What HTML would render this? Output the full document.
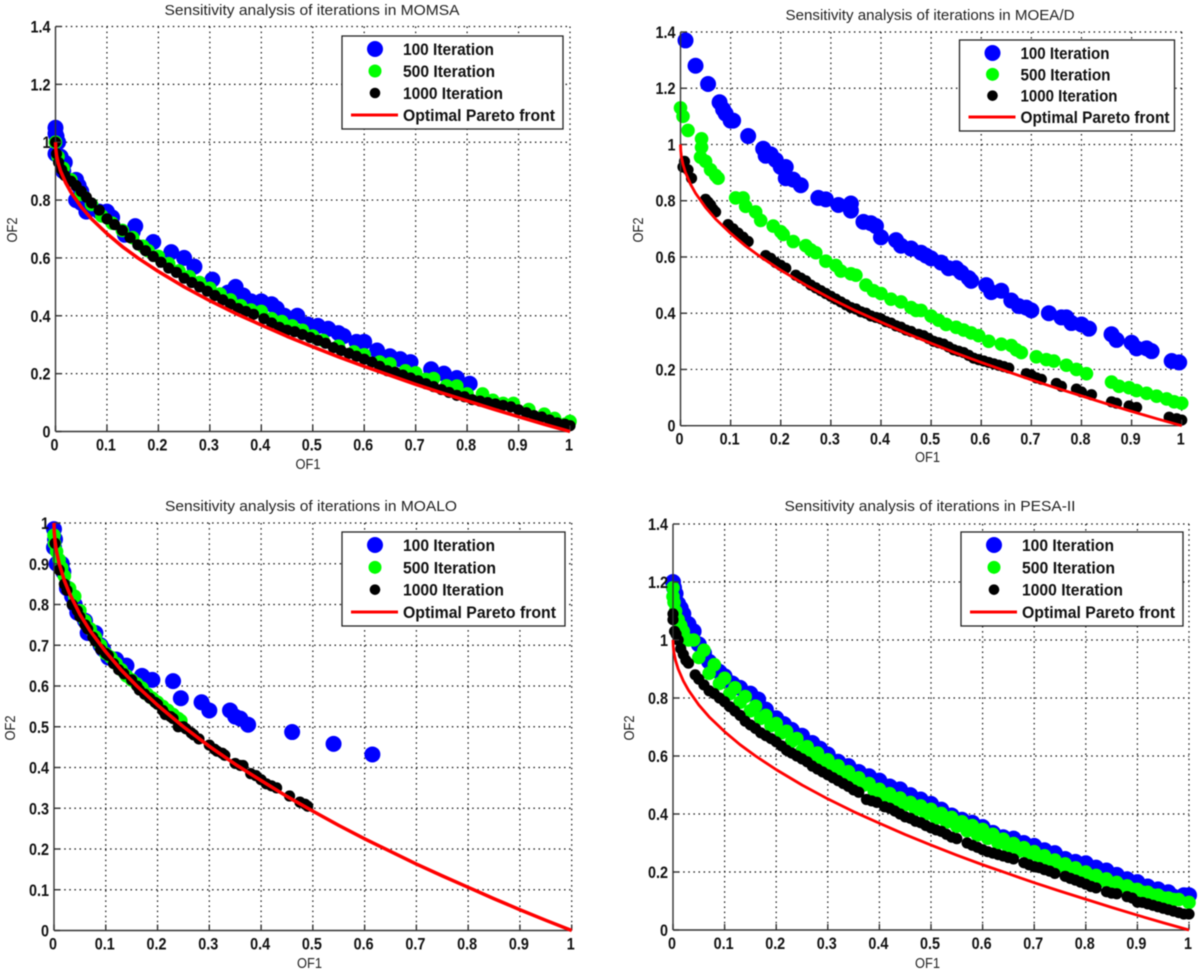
<!DOCTYPE html>
<html lang="en">
<head>
<meta charset="utf-8">
<title>Sensitivity analysis of iterations</title>
<style>
html,body{margin:0;padding:0;background:#fff;}
#figure{display:block;width:1200px;height:973px;filter:blur(0.4px);}
text{font-family:"Liberation Sans",Arial,sans-serif;}
</style>
</head>
<body>
<svg id="figure" xmlns="http://www.w3.org/2000/svg" width="1200" height="973" viewBox="0 0 1200 973"></svg>
<script>
// ---- shared values ----
const legendLabels = ["100 Iteration", "500 Iteration", "1000 Iteration", "Optimal Pareto front"];
const xTickValues = [0, 0.1, 0.2, 0.3, 0.4, 0.5, 0.6, 0.7, 0.8, 0.9, 1];
const xTickLabels = ["0", "0.1", "0.2", "0.3", "0.4", "0.5", "0.6", "0.7", "0.8", "0.9", "1"];
const yTickValuesWide = [0, 0.2, 0.4, 0.6, 0.8, 1, 1.2, 1.4];
const yTickLabelsWide = ["0", "0.2", "0.4", "0.6", "0.8", "1", "1.2", "1.4"];
const yTickValuesUnit = [0, 0.1, 0.2, 0.3, 0.4, 0.5, 0.6, 0.7, 0.8, 0.9, 1];
const yTickLabelsUnit = ["0", "0.1", "0.2", "0.3", "0.4", "0.5", "0.6", "0.7", "0.8", "0.9", "1"];
const paretoX = [0, 0.0005, 0.002, 0.005, 0.01, 0.02, 0.03, 0.05, 0.07, 0.1, 0.13, 0.16, 0.2, 0.25, 0.3, 0.35, 0.4, 0.45, 0.5, 0.55, 0.6, 0.65, 0.7, 0.75, 0.8, 0.85, 0.9, 0.95, 1];
const paretoY = [1, 0.978, 0.955, 0.929, 0.9, 0.859, 0.827, 0.776, 0.735, 0.684, 0.639, 0.6, 0.553, 0.5, 0.452, 0.408, 0.368, 0.329, 0.293, 0.258, 0.225, 0.194, 0.163, 0.134, 0.106, 0.078, 0.051, 0.025, 0];

// ---- MOMSA ----
const momsa100X = [0, 0, 0.002, 0.005, 0, 0.01, 0.018, 0.015, 0.04, 0.045, 0.05, 0.04, 0.05, 0.06, 0.085, 0.1, 0.11, 0.135, 0.155, 0.15, 0.19, 0.225, 0.25, 0.27, 0.305, 0.335, 0.35, 0.365, 0.38, 0.4, 0.42, 0.43, 0.445, 0.47, 0.49, 0.51, 0.53, 0.55, 0.56, 0.585, 0.6, 0.625, 0.65, 0.67, 0.69, 0.73, 0.755, 0.78, 0.805];
const momsa100Y = [1.05, 1.03, 1.02, 1, 0.96, 0.95, 0.93, 0.9, 0.87, 0.85, 0.83, 0.8, 0.79, 0.76, 0.76, 0.76, 0.74, 0.68, 0.71, 0.69, 0.655, 0.62, 0.6, 0.57, 0.525, 0.48, 0.5, 0.47, 0.45, 0.45, 0.44, 0.425, 0.4, 0.4, 0.37, 0.365, 0.355, 0.34, 0.33, 0.31, 0.31, 0.28, 0.26, 0.25, 0.24, 0.215, 0.2, 0.185, 0.165];
const momsa500X = [0, 0.005, 0.015, 0.03, 0.05, 0.07, 0.09, 0.11, 0.13, 0.15, 0.17, 0.18, 0.2, 0.22, 0.24, 0.26, 0.28, 0.3, 0.32, 0.34, 0.36, 0.38, 0.4, 0.42, 0.44, 0.46, 0.48, 0.5, 0.52, 0.55, 0.58, 0.6, 0.63, 0.65, 0.68, 0.7, 0.72, 0.735, 0.76, 0.78, 0.8, 0.83, 0.85, 0.87, 0.89, 0.92, 0.95, 0.97, 0.99, 1];
const momsa500Y = [1, 0.95, 0.91, 0.87, 0.82, 0.785, 0.745, 0.72, 0.695, 0.67, 0.64, 0.625, 0.605, 0.58, 0.555, 0.535, 0.515, 0.495, 0.475, 0.455, 0.435, 0.42, 0.415, 0.39, 0.38, 0.365, 0.35, 0.33, 0.315, 0.295, 0.275, 0.265, 0.24, 0.234, 0.21, 0.203, 0.18, 0.183, 0.158, 0.157, 0.13, 0.13, 0.108, 0.097, 0.097, 0.076, 0.06, 0.045, 0.025, 0.035];
const momsa1000X = [0, 0.002, 0.006, 0.012, 0.018, 0.03, 0.04, 0.05, 0.06, 0.07, 0.085, 0.1, 0.115, 0.13, 0.145, 0.16, 0.175, 0.19, 0.205, 0.22, 0.235, 0.25, 0.265, 0.28, 0.295, 0.31, 0.325, 0.34, 0.355, 0.37, 0.385, 0.405, 0.42, 0.435, 0.45, 0.465, 0.48, 0.495, 0.51, 0.525, 0.54, 0.555, 0.57, 0.585, 0.6, 0.615, 0.63, 0.645, 0.66, 0.675, 0.69, 0.705, 0.72, 0.735, 0.75, 0.765, 0.78, 0.795, 0.81, 0.825, 0.84, 0.855, 0.87, 0.885, 0.9, 0.915, 0.93, 0.945, 0.96, 0.975, 0.99, 1];
const momsa1000Y = [1, 0.96, 0.93, 0.905, 0.885, 0.865, 0.85, 0.83, 0.81, 0.79, 0.765, 0.735, 0.715, 0.695, 0.67, 0.645, 0.625, 0.605, 0.585, 0.565, 0.55, 0.53, 0.515, 0.5, 0.485, 0.47, 0.455, 0.44, 0.425, 0.415, 0.405, 0.39, 0.375, 0.36, 0.35, 0.345, 0.335, 0.325, 0.315, 0.305, 0.29, 0.28, 0.27, 0.26, 0.25, 0.24, 0.225, 0.21, 0.205, 0.195, 0.185, 0.175, 0.165, 0.155, 0.145, 0.135, 0.125, 0.12, 0.11, 0.105, 0.1, 0.095, 0.09, 0.085, 0.075, 0.065, 0.055, 0.05, 0.04, 0.03, 0.025, 0.02];

// ---- MOEA/D ----
const moead100X = [0.01, 0.03, 0.055, 0.078, 0.085, 0.09, 0.1, 0.105, 0.135, 0.165, 0.17, 0.18, 0.19, 0.2, 0.21, 0.21, 0.225, 0.24, 0.275, 0.29, 0.315, 0.34, 0.34, 0.365, 0.38, 0.39, 0.4, 0.43, 0.44, 0.46, 0.48, 0.49, 0.5, 0.52, 0.535, 0.55, 0.56, 0.575, 0.58, 0.61, 0.62, 0.64, 0.66, 0.675, 0.69, 0.7, 0.735, 0.76, 0.77, 0.78, 0.8, 0.815, 0.86, 0.87, 0.9, 0.91, 0.93, 0.94, 0.98, 0.995];
const moead100Y = [1.37, 1.28, 1.215, 1.15, 1.125, 1.11, 1.085, 1.085, 1.03, 0.985, 0.96, 0.965, 0.945, 0.92, 0.92, 0.88, 0.875, 0.855, 0.81, 0.805, 0.785, 0.79, 0.765, 0.725, 0.72, 0.71, 0.67, 0.66, 0.64, 0.63, 0.615, 0.605, 0.595, 0.58, 0.56, 0.56, 0.545, 0.525, 0.515, 0.5, 0.475, 0.48, 0.445, 0.425, 0.42, 0.41, 0.4, 0.385, 0.385, 0.365, 0.36, 0.345, 0.325, 0.305, 0.295, 0.275, 0.275, 0.265, 0.23, 0.225];
const moead500X = [0, 0.005, 0.015, 0.042, 0.042, 0.04, 0.05, 0.06, 0.07, 0.075, 0.11, 0.125, 0.13, 0.15, 0.16, 0.185, 0.2, 0.205, 0.225, 0.25, 0.26, 0.27, 0.29, 0.31, 0.32, 0.34, 0.35, 0.37, 0.385, 0.4, 0.42, 0.44, 0.46, 0.47, 0.48, 0.5, 0.515, 0.53, 0.55, 0.565, 0.58, 0.595, 0.615, 0.64, 0.66, 0.67, 0.68, 0.71, 0.73, 0.745, 0.77, 0.79, 0.81, 0.86, 0.875, 0.895, 0.91, 0.93, 0.95, 0.97, 0.985, 1];
const moead500Y = [1.13, 1.1, 1.05, 1.02, 0.99, 0.955, 0.94, 0.91, 0.89, 0.88, 0.81, 0.81, 0.78, 0.76, 0.73, 0.71, 0.69, 0.68, 0.655, 0.64, 0.625, 0.615, 0.585, 0.57, 0.55, 0.54, 0.535, 0.5, 0.48, 0.47, 0.45, 0.44, 0.42, 0.41, 0.41, 0.39, 0.375, 0.36, 0.35, 0.34, 0.33, 0.32, 0.3, 0.29, 0.285, 0.27, 0.26, 0.245, 0.235, 0.23, 0.215, 0.2, 0.185, 0.155, 0.14, 0.135, 0.125, 0.115, 0.105, 0.095, 0.085, 0.08];
const moead1000X = [0.008, 0.005, 0.015, 0.022, 0.05, 0.055, 0.06, 0.065, 0.07, 0.095, 0.105, 0.115, 0.125, 0.135, 0.17, 0.18, 0.19, 0.2, 0.21, 0.23, 0.24, 0.25, 0.26, 0.27, 0.28, 0.29, 0.3, 0.31, 0.32, 0.33, 0.34, 0.35, 0.36, 0.37, 0.38, 0.39, 0.4, 0.41, 0.42, 0.43, 0.44, 0.45, 0.46, 0.475, 0.485, 0.495, 0.505, 0.515, 0.525, 0.535, 0.545, 0.555, 0.565, 0.575, 0.585, 0.595, 0.605, 0.615, 0.625, 0.635, 0.645, 0.655, 0.69, 0.7, 0.71, 0.72, 0.75, 0.76, 0.79, 0.8, 0.82, 0.86, 0.87, 0.895, 0.91, 0.975, 0.99, 1];
const moead1000Y = [0.94, 0.92, 0.91, 0.88, 0.805, 0.795, 0.785, 0.77, 0.76, 0.715, 0.7, 0.685, 0.67, 0.655, 0.605, 0.595, 0.58, 0.57, 0.56, 0.535, 0.525, 0.515, 0.5, 0.49, 0.48, 0.47, 0.46, 0.45, 0.44, 0.43, 0.42, 0.415, 0.405, 0.4, 0.39, 0.385, 0.38, 0.37, 0.365, 0.355, 0.35, 0.34, 0.335, 0.325, 0.32, 0.31, 0.3, 0.295, 0.29, 0.28, 0.27, 0.265, 0.26, 0.25, 0.24, 0.235, 0.23, 0.225, 0.22, 0.215, 0.21, 0.205, 0.185, 0.18, 0.17, 0.165, 0.15, 0.14, 0.13, 0.12, 0.11, 0.085, 0.08, 0.07, 0.065, 0.03, 0.025, 0.02];

// ---- MOALO ----
const moalo100X = [0, 0.002, 0, 0.005, 0.015, 0.018, 0.025, 0.035, 0.04, 0.045, 0.06, 0.065, 0.08, 0.09, 0.095, 0.105, 0.12, 0.14, 0.17, 0.18, 0.19, 0.23, 0.245, 0.285, 0.3, 0.34, 0.35, 0.36, 0.375, 0.46, 0.54, 0.615];
const moalo100Y = [0.985, 0.96, 0.94, 0.9, 0.9, 0.88, 0.84, 0.82, 0.8, 0.78, 0.76, 0.73, 0.73, 0.7, 0.69, 0.67, 0.665, 0.65, 0.625, 0.615, 0.615, 0.612, 0.57, 0.56, 0.54, 0.54, 0.525, 0.52, 0.505, 0.487, 0.458, 0.432];
const moalo500X = [0, 0.001, 0.005, 0.01, 0.015, 0.02, 0.03, 0.04, 0.05, 0.06, 0.07, 0.08, 0.09, 0.1, 0.11, 0.12, 0.13, 0.14, 0.15, 0.16, 0.17, 0.18, 0.19, 0.2, 0.21, 0.22, 0.23, 0.24, 0.245];
const moalo500Y = [0.97, 0.95, 0.93, 0.91, 0.89, 0.87, 0.84, 0.82, 0.785, 0.76, 0.74, 0.72, 0.7, 0.68, 0.67, 0.655, 0.64, 0.625, 0.615, 0.605, 0.595, 0.58, 0.57, 0.56, 0.55, 0.54, 0.53, 0.52, 0.515];
const moalo1000X = [0.002, 0.01, 0.02, 0.025, 0.035, 0.045, 0.05, 0.06, 0.065, 0.075, 0.08, 0.09, 0.1, 0.105, 0.115, 0.125, 0.135, 0.15, 0.16, 0.165, 0.175, 0.185, 0.195, 0.2, 0.21, 0.215, 0.225, 0.23, 0.24, 0.25, 0.255, 0.265, 0.27, 0.28, 0.3, 0.31, 0.315, 0.325, 0.33, 0.35, 0.36, 0.365, 0.38, 0.39, 0.4, 0.41, 0.42, 0.43, 0.455, 0.475, 0.485, 0.49];
const moalo1000Y = [0.95, 0.885, 0.85, 0.835, 0.8, 0.785, 0.77, 0.75, 0.74, 0.72, 0.71, 0.69, 0.68, 0.675, 0.655, 0.64, 0.63, 0.615, 0.6, 0.59, 0.58, 0.57, 0.56, 0.555, 0.54, 0.53, 0.525, 0.52, 0.5, 0.5, 0.495, 0.485, 0.48, 0.47, 0.455, 0.445, 0.44, 0.435, 0.43, 0.41, 0.405, 0.405, 0.385, 0.38, 0.37, 0.36, 0.355, 0.35, 0.33, 0.315, 0.31, 0.305];

// ---- PESA-II ----
const pesa100X = [0, 0.002, 0.005, 0.01, 0.015, 0.02, 0.03, 0.04, 0.05, 0.06, 0.07, 0.08, 0.09, 0.1, 0.115, 0.13, 0.15, 0.165, 0.18, 0.2, 0.215, 0.23, 0.25, 0.27, 0.285, 0.3, 0.32, 0.34, 0.36, 0.38, 0.4, 0.42, 0.44, 0.46, 0.48, 0.5, 0.52, 0.54, 0.56, 0.58, 0.6, 0.62, 0.64, 0.66, 0.68, 0.7, 0.72, 0.74, 0.76, 0.78, 0.8, 0.82, 0.84, 0.86, 0.88, 0.9, 0.92, 0.94, 0.96, 0.97, 0.99, 1];
const pesa100Y = [1.2, 1.18, 1.16, 1.125, 1.11, 1.09, 1.055, 1.03, 0.985, 0.955, 0.925, 0.905, 0.89, 0.875, 0.85, 0.835, 0.815, 0.795, 0.76, 0.73, 0.71, 0.69, 0.67, 0.645, 0.625, 0.605, 0.58, 0.565, 0.545, 0.53, 0.515, 0.495, 0.485, 0.465, 0.45, 0.435, 0.415, 0.395, 0.38, 0.37, 0.355, 0.335, 0.32, 0.315, 0.3, 0.29, 0.275, 0.265, 0.245, 0.235, 0.23, 0.215, 0.205, 0.19, 0.175, 0.165, 0.15, 0.14, 0.13, 0.115, 0.12, 0.12];
const pesa500X = [0, 0, 0.002, 0.005, 0.01, 0.015, 0.02, 0.03, 0.04, 0.05, 0.06, 0.07, 0.08, 0.09, 0.1, 0.11, 0.12, 0.13, 0.14, 0.15, 0.16, 0.17, 0.18, 0.19, 0.2, 0.21, 0.22, 0.23, 0.24, 0.25, 0.26, 0.27, 0.28, 0.29, 0.3, 0.31, 0.32, 0.33, 0.34, 0.35, 0.36, 0.37, 0.38, 0.39, 0.4, 0.41, 0.42, 0.43, 0.44, 0.45, 0.46, 0.47, 0.48, 0.49, 0.5, 0.51, 0.52, 0.53, 0.54, 0.55, 0.56, 0.57, 0.58, 0.59, 0.6, 0.61, 0.62, 0.63, 0.64, 0.65, 0.66, 0.67, 0.68, 0.69, 0.7, 0.71, 0.72, 0.73, 0.74, 0.75, 0.76, 0.77, 0.78, 0.79, 0.8, 0.81, 0.82, 0.83, 0.84, 0.85, 0.86, 0.87, 0.88, 0.89, 0.9, 0.91, 0.92, 0.93, 0.94, 0.95, 0.96, 0.97, 0.98, 1];
const pesa500Y = [1.18, 1.15, 1.13, 1.1, 1.07, 1.05, 1.03, 1, 1, 0.94, 0.965, 0.885, 0.915, 0.85, 0.868, 0.815, 0.835, 0.785, 0.805, 0.756, 0.772, 0.73, 0.74, 0.705, 0.712, 0.68, 0.685, 0.65, 0.66, 0.618, 0.632, 0.595, 0.61, 0.572, 0.587, 0.552, 0.566, 0.532, 0.546, 0.515, 0.525, 0.5, 0.505, 0.478, 0.485, 0.462, 0.47, 0.445, 0.455, 0.432, 0.44, 0.415, 0.428, 0.4, 0.416, 0.386, 0.402, 0.372, 0.388, 0.358, 0.373, 0.342, 0.36, 0.328, 0.347, 0.316, 0.33, 0.3, 0.313, 0.285, 0.298, 0.272, 0.284, 0.26, 0.27, 0.25, 0.256, 0.235, 0.241, 0.222, 0.228, 0.208, 0.214, 0.192, 0.2, 0.182, 0.188, 0.17, 0.176, 0.16, 0.164, 0.15, 0.152, 0.14, 0.14, 0.13, 0.13, 0.12, 0.12, 0.11, 0.11, 0.105, 0.105, 0.095];
const pesa1000X = [0, 0, 0.003, 0.006, 0.01, 0.015, 0.02, 0.025, 0.03, 0.043, 0.05, 0.06, 0.07, 0.08, 0.09, 0.1, 0.11, 0.12, 0.13, 0.14, 0.15, 0.16, 0.17, 0.18, 0.19, 0.2, 0.21, 0.22, 0.23, 0.24, 0.25, 0.26, 0.27, 0.28, 0.29, 0.3, 0.31, 0.32, 0.33, 0.34, 0.35, 0.36, 0.375, 0.385, 0.395, 0.41, 0.42, 0.43, 0.44, 0.45, 0.46, 0.47, 0.48, 0.49, 0.5, 0.51, 0.52, 0.53, 0.54, 0.55, 0.57, 0.58, 0.59, 0.6, 0.61, 0.62, 0.63, 0.64, 0.65, 0.66, 0.68, 0.69, 0.7, 0.71, 0.72, 0.73, 0.74, 0.76, 0.77, 0.78, 0.79, 0.8, 0.81, 0.82, 0.84, 0.85, 0.86, 0.88, 0.89, 0.9, 0.91, 0.92, 0.93, 0.94, 0.95, 0.96, 0.97, 0.98, 0.99, 1];
const pesa1000Y = [1.09, 1.07, 1.03, 1.02, 1, 0.97, 0.95, 0.93, 0.92, 0.88, 0.865, 0.845, 0.825, 0.815, 0.8, 0.787, 0.77, 0.755, 0.74, 0.72, 0.707, 0.695, 0.68, 0.67, 0.66, 0.649, 0.635, 0.62, 0.61, 0.6, 0.59, 0.58, 0.565, 0.555, 0.545, 0.535, 0.525, 0.515, 0.505, 0.495, 0.483, 0.475, 0.45, 0.445, 0.44, 0.425, 0.42, 0.41, 0.4, 0.39, 0.385, 0.375, 0.37, 0.36, 0.352, 0.345, 0.34, 0.33, 0.32, 0.315, 0.3, 0.292, 0.285, 0.277, 0.27, 0.265, 0.26, 0.255, 0.25, 0.245, 0.232, 0.225, 0.218, 0.215, 0.208, 0.203, 0.195, 0.185, 0.178, 0.172, 0.165, 0.158, 0.15, 0.145, 0.132, 0.127, 0.125, 0.115, 0.11, 0.096, 0.095, 0.09, 0.085, 0.08, 0.075, 0.07, 0.065, 0.06, 0.055, 0.055];

// ---- drawing ----
const svg = document.getElementById('figure');
const NS = 'http://www.w3.org/2000/svg';
function make(tag, attrs, parent) {
  const el = document.createElementNS(NS, tag);
  for (const k in attrs) el.setAttribute(k, attrs[k]);
  parent.appendChild(el);
  return el;
}
const seriesColors = ['#0000ff', '#00ff00', '#000000'];
const seriesRadii = [8, 6.8, 5.6];
const legendRadii = [8, 6.5, 5.3];
const seriesNames = ['series-100-iteration', 'series-500-iteration', 'series-1000-iteration'];
const tickWidth = t => (t.length > 1 ? 20 : 8);

function drawPanel(cfg) {
  const g = make('g', {}, svg);
  
  
  const xScale = v => cfg.left + (cfg.right - cfg.left) * v;
  const yScale = v => cfg.bottom - (cfg.bottom - cfg.top) * v / cfg.yMax;

  // grid
  const grid = make('g', {stroke:'#111', 'stroke-width':1.2, 'stroke-dasharray':'1.5 3.6', fill:'none'}, g);
  
  
  xTickValues.forEach(v => {
    if (v === 0) return;
    make('line', {x1:xScale(v), x2:xScale(v), y1:cfg.top, y2:cfg.bottom}, grid);
  });
  cfg.yTicks.forEach(v => {
    if (v === 0) return;
    make('line', {x1:cfg.left, x2:cfg.right, y1:yScale(v), y2:yScale(v)}, grid);
  });

  // series
  cfg.series.forEach((s, i) => {
    const sg = make('g', {fill:seriesColors[i]}, g);
    
    
    s.x.forEach((xv, j) => {
      const c = make('circle', {cx:xScale(xv), cy:yScale(s.y[j]), r:seriesRadii[i]}, sg);
      
      
    });
  });

  // axes
  const axes = make('g', {stroke:'#333', 'stroke-width':1.4, fill:'none'}, g);
  
  
  make('line', {x1:cfg.left, x2:cfg.left, y1:cfg.top, y2:cfg.bottom}, axes);
  make('line', {x1:cfg.left, x2:cfg.right, y1:cfg.bottom, y2:cfg.bottom}, axes);
  xTickValues.forEach(v => make('line', {x1:xScale(v), x2:xScale(v), y1:cfg.bottom, y2:cfg.bottom - 6}, axes));
  cfg.yTicks.forEach(v => make('line', {x1:cfg.left, x2:cfg.left + 6, y1:yScale(v), y2:yScale(v)}, axes));

  // optimal front
  const pts = paretoX.map((xv, j) => xScale(xv).toFixed(2) + ',' + yScale(paretoY[j]).toFixed(2)).join(' ');
  const front = make('polyline', {points:pts, fill:'none', stroke:'#ff0000', 'stroke-width':cfg.frontWidth, 'stroke-linejoin':'round'}, g);
  
  

  // tick labels
  xTickLabels.forEach((t, i) => {
    const el = make('text', {x:xScale(xTickValues[i]) - 1, y:cfg.bottom + 19, 'text-anchor':'middle', 'font-size':17, 'font-weight':'bold', fill:'#111', textLength:tickWidth(t), lengthAdjust:'spacingAndGlyphs'}, g);
    el.textContent = t;
    
    
  });
  cfg.yLabels.forEach((t, i) => {
    const el = make('text', {x:cfg.left - 5, y:yScale(cfg.yTicks[i]) + 6, 'text-anchor':'end', 'font-size':17, 'font-weight':'bold', fill:'#111', textLength:tickWidth(t), lengthAdjust:'spacingAndGlyphs'}, g);
    el.textContent = t;
    
    
  });

  // titles
  const title = make('text', {x:cfg.titleX, y:cfg.titleY + 5, 'text-anchor':'middle', 'font-size':15, fill:'#222', textLength:cfg.titleW, lengthAdjust:'spacingAndGlyphs'}, g);
  title.textContent = cfg.title;
  
  
  const xt = make('text', {x:cfg.ofx, y:cfg.ofxY + 5, 'text-anchor':'middle', 'font-size':14.5, fill:'#222', textLength:25, lengthAdjust:'spacingAndGlyphs'}, g);
  xt.textContent = 'OF1';
  
  
  const yt = make('text', {x:0, y:0, 'text-anchor':'middle', 'font-size':14.5, fill:'#222', textLength:25, lengthAdjust:'spacingAndGlyphs', transform:'translate(' + (cfg.ofy + 5) + ' ' + cfg.ofyY + ') rotate(-90)'}, g);
  yt.textContent = 'OF2';
  
  

  // legend
  const lg = make('g', {}, g);
  
  
  make('rect', {x:cfg.lx, y:cfg.ly, width:cfg.lw, height:cfg.lh, fill:'#fff', stroke:'#222', 'stroke-width':1.3}, lg);
  const rowStep = (cfg.lh - 27) / 3;
  legendLabels.forEach((label, i) => {
    const ry = cfg.ly + 13 + rowStep * i;
    const entry = make('g', {}, lg);
    
    
    if (i < 3) {
      make('circle', {cx:cfg.lx + 33, cy:ry, r:legendRadii[i], fill:seriesColors[i]}, entry);
    } else {
      make('line', {x1:cfg.lx + 9, x2:cfg.lx + 56, y1:ry, y2:ry, stroke:'#ff0000', 'stroke-width':3}, entry);
    }
    const lt = make('text', {x:cfg.lx + 61, y:ry + 6, 'font-size':16.5, 'font-weight':'bold', fill:'#111', textLength:cfg.legendW[i], lengthAdjust:'spacingAndGlyphs'}, entry);
    lt.textContent = label;
  });
}

drawPanel({name:'panel-momsa', title:'Sensitivity analysis of iterations in MOMSA', left:55.5, right:570, top:26.5, bottom:431.5, yMax:1.4,
  yTicks:yTickValuesWide, yLabels:yTickLabelsWide, frontWidth:3.5, titleX:312, titleY:10, titleW:295, ofx:308, ofxY:464, ofy:12, ofyY:230,
  lx:342, ly:36, lw:221, lh:93, legendW:[91, 92, 100, 152],
  series:[{x:momsa100X, y:momsa100Y}, {x:momsa500X, y:momsa500Y}, {x:momsa1000X, y:momsa1000Y}]});
drawPanel({name:'panel-moead', title:'Sensitivity analysis of iterations in MOEA/D', left:680.5, right:1181.7, top:32, bottom:425.7, yMax:1.4,
  yTicks:yTickValuesWide, yLabels:yTickLabelsWide, frontWidth:2.8, titleX:930, titleY:15, titleW:289, ofx:927.5, ofxY:457, ofy:638, ofyY:230,
  lx:959.5, ly:40, lw:215, lh:91, legendW:[89, 90, 97, 149],
  series:[{x:moead100X, y:moead100Y}, {x:moead500X, y:moead500Y}, {x:moead1000X, y:moead1000Y}]});
drawPanel({name:'panel-moalo', title:'Sensitivity analysis of iterations in MOALO', left:54, right:571.7, top:523, bottom:930.5, yMax:1,
  yTicks:yTickValuesUnit, yLabels:yTickLabelsUnit, frontWidth:3.5, titleX:311, titleY:506, titleW:292, ofx:309.5, ofxY:963, ofy:10, ofyY:728,
  lx:342, ly:532, lw:223, lh:94, legendW:[92, 93, 101, 153],
  series:[{x:moalo100X, y:moalo100Y}, {x:moalo500X, y:moalo500Y}, {x:moalo1000X, y:moalo1000Y}]});
drawPanel({name:'panel-pesa-ii', title:'Sensitivity analysis of iterations in PESA-II', left:673, right:1189, top:524, bottom:930, yMax:1.4,
  yTicks:yTickValuesWide, yLabels:yTickLabelsWide, frontWidth:2.8, titleX:930, titleY:506, titleW:291, ofx:927.5, ofxY:963, ofy:629, ofyY:728,
  lx:961, ly:532, lw:222, lh:94, legendW:[92, 93, 101, 153],
  series:[{x:pesa100X, y:pesa100Y}, {x:pesa500X, y:pesa500Y}, {x:pesa1000X, y:pesa1000Y}]});
</script>
</body>
</html>
